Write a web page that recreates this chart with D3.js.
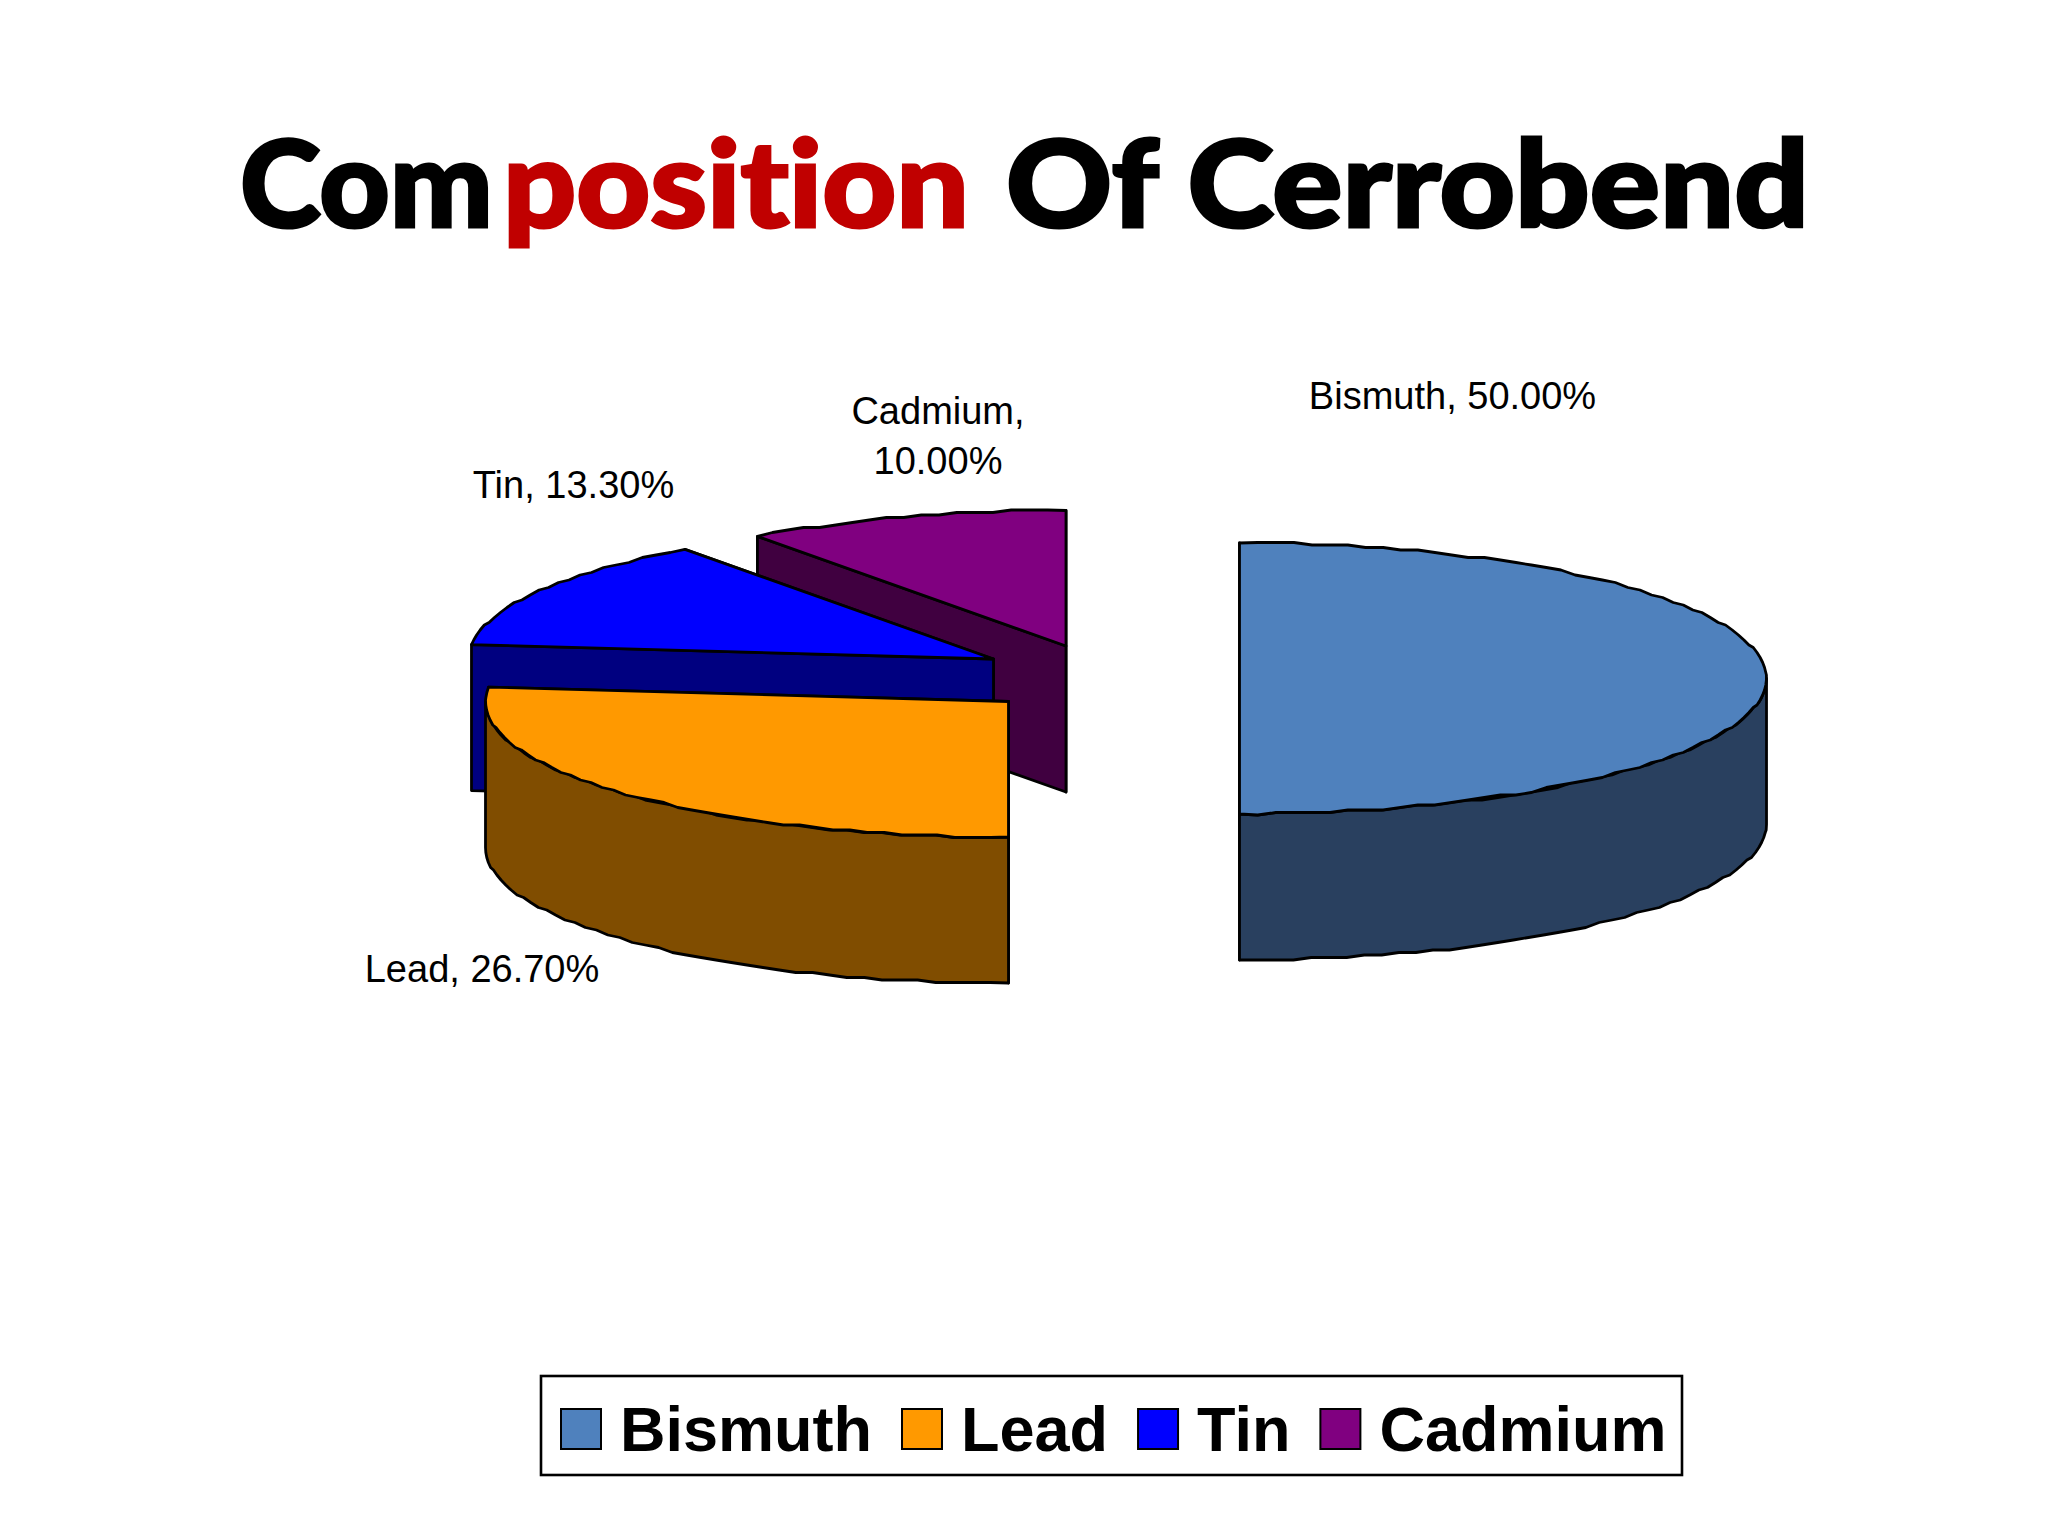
<!DOCTYPE html>
<html>
<head>
<meta charset="utf-8">
<style>html,body{margin:0;padding:0;background:#fff}svg{display:block}</style>
<script src="https://cdn.jsdelivr.net/npm/d3@7/dist/d3.min.js"></script>
</head>
<body>
<div id="chart"></div>
<script>
const categories = ["Bismuth", "Lead", "Tin", "Cadmium"];
const values = [50.0, 26.7, 13.3, 10.0];
const topColors = ["#4F81BD", "#FF9900", "#0000FF", "#800080"];
const sideColors = ["#29405F", "#804D00", "#000080", "#400040"];
const titleParts = ["Com", "position", " Of Cerrobend"];
const titleColors = ["#000", "#C00000", "#000"];

const W = 2048, H = 1536;
// Exploded slice centres (top face) in page coordinates
const centres = [[1239.5, 678.5], [1008.5, 701.5], [993.5, 659], [1066, 646]];
const radiiX = [527, 523, 525, 525];
const RY = 135.5, DEPTH = 146, SNAP_Y = 2.5;

const svg = d3.select("#chart").append("svg").attr("width", W).attr("height", H);

// Title
const titleX = [240, 503, 975];
const titleLen = [253, 466, 834];
const title = svg.append("text").attr("y", 227)
  .attr("font-family", "Lato").attr("font-weight", 900).attr("font-size", 120)
  .style("font-variant-ligatures", "none").style("white-space", "pre");
title.selectAll("tspan").data(titleParts).join("tspan")
  .attr("x", (d, i) => titleX[i])
  .attr("textLength", (d, i) => titleLen[i]).attr("lengthAdjust", "spacingAndGlyphs")
  .attr("fill", (d, i) => titleColors[i]).attr("stroke", (d, i) => titleColors[i]).attr("stroke-width", 3)
  .text(d => d);

// Pie geometry
const pie = d3.pie().sort(null).startAngle(0).endAngle(2 * Math.PI);
const arcs = pie(values);
const lineGen = d3.line();

function rim(c, rx, a0, a1, dy = 0) {
  const n = Math.max(2, Math.ceil((a1 - a0) / (Math.PI / 90)));
  const ang = d3.scaleLinear().domain([0, n]).range([a0, a1]);
  return d3.range(n + 1).map(k => {
    const t = ang(k);
    const x = c[0] + rx * Math.sin(t), y = c[1] - RY * Math.cos(t) + dy;
    if (k === 0 || k === n) return [x, y];
    return [x, Math.round(y / SNAP_Y) * SNAP_Y];
  });
}
function radialFace(c, rx, a) {
  const x = c[0] + rx * Math.sin(a), y = c[1] - RY * Math.cos(a);
  return [[c[0], c[1]], [x, y], [x, y + DEPTH], [c[0], c[1] + DEPTH]];
}

const paintOrder = [3, 2, 1, 0];
paintOrder.forEach(idx => {
  const a = arcs[idx], c = centres[idx], rx = radiiX[idx];
  const g = svg.append("g").attr("stroke", "#000").attr("stroke-width", 2.8).attr("stroke-linejoin", "round");
  const closed = p => lineGen(p) + "Z";
  g.append("path").attr("d", closed(radialFace(c, rx, a.endAngle))).attr("fill", sideColors[idx]);
  g.append("path").attr("d", closed(radialFace(c, rx, a.startAngle))).attr("fill", sideColors[idx]);
  const f0 = Math.max(a.startAngle, Math.PI / 2), f1 = Math.min(a.endAngle, 3 * Math.PI / 2);
  if (f1 > f0) {
    const upper = rim(c, rx, f0, f1), lower = rim(c, rx, f0, f1, DEPTH).reverse();
    g.append("path").attr("d", closed(upper.concat(lower))).attr("fill", sideColors[idx]);
  }
  g.append("path").attr("d", closed([c].concat(rim(c, rx, a.startAngle, a.endAngle)))).attr("fill", topColors[idx]);
});

// Data labels
const fmt = v => v.toFixed(2) + "%";
const labelPos = [[1452.5, [409]], [482, [982]], [573.5, [498]], [938, [424, 474]]];
const labelLines = categories.map((c, i) => i === 3 ? [c + ",", fmt(values[i])] : [c + ", " + fmt(values[i])]);
labelLines.forEach((lines, i) => {
  lines.forEach((t, j) => {
    svg.append("text").attr("x", labelPos[i][0]).attr("y", labelPos[i][1][j])
      .attr("text-anchor", "middle").attr("font-family", "Liberation Sans")
      .attr("font-size", 38).attr("fill", "#000").text(t);
  });
});

// Legend
svg.append("rect").attr("x", 541).attr("y", 1376).attr("width", 1141).attr("height", 99)
  .attr("fill", "#fff").attr("stroke", "#000").attr("stroke-width", 2.6);
let lx = 561;
categories.forEach((name, i) => {
  svg.append("rect").attr("x", lx).attr("y", 1409).attr("width", 40).attr("height", 40)
    .attr("fill", topColors[i]).attr("stroke", "#000").attr("stroke-width", 2);
  const t = svg.append("text").attr("x", lx + 59).attr("y", 1451)
    .attr("font-family", "Liberation Sans").attr("font-weight", 700).attr("font-size", 63)
    .attr("fill", "#000").text(name);
  lx += 59 + t.node().getComputedTextLength() + 30;
});
</script>
</body>
</html>
